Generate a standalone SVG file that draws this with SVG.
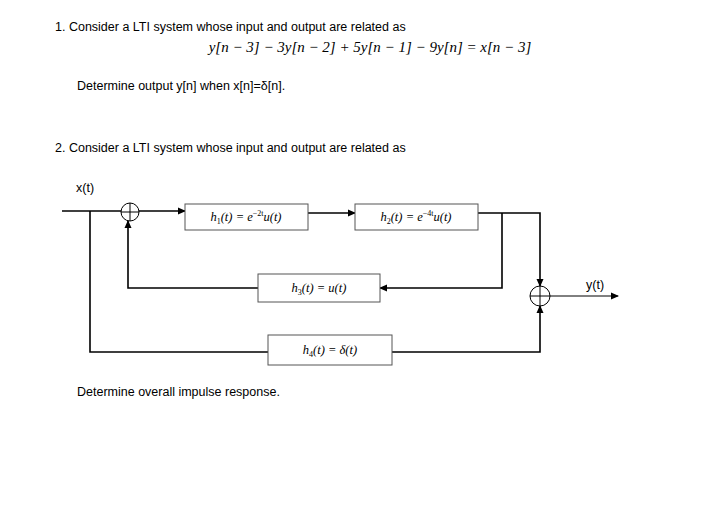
<svg xmlns="http://www.w3.org/2000/svg" width="720" height="530" viewBox="0 0 720 530">
<defs>
<marker id="ar" markerWidth="8" markerHeight="8" refX="7" refY="4" orient="auto" markerUnits="userSpaceOnUse"><path d="M0,0.5 L8,4 L0,7.5 z" fill="#000"/></marker>
</defs>
<style>
.t{font-family:"Liberation Sans",Arial,sans-serif;font-size:12.5px;fill:#000}
.m{font-family:"Liberation Serif","DejaVu Serif",serif;font-style:italic;font-size:12.5px;fill:#000}
.s{font-size:8px;font-style:normal}
.eq{font-family:"Liberation Serif","DejaVu Serif",serif;font-style:italic;font-size:15px;fill:#000}
.b{fill:#fff;stroke:#555;stroke-width:1}
.w{fill:none;stroke:#000;stroke-width:1.6}
.c{fill:#fff;stroke:#000;stroke-width:1}
</style>
<rect width="720" height="530" fill="#fff"/>
<text class="t" x="55" y="31">1.  Consider a LTI system whose input and output are related as</text>
<text class="eq" x="370" y="52" text-anchor="middle">y[n − 3] − 3y[n − 2] + 5y[n − 1] − 9y[n] = x[n − 3]</text>
<text class="t" x="77" y="90">Determine output y[n] when x[n]=δ[n].</text>
<text class="t" x="55" y="152">2.  Consider a LTI system whose input and output are related as</text>
<text class="t" x="76" y="192">x(t)</text>
<text class="t" x="586" y="289">y(t)</text>
<text class="t" x="77" y="396">Determine overall impulse response.</text>
<g id="connectors">
<path class="w" d="M62,211 H121"/>
<path class="w" d="M90,211 V352 H268"/>
<path class="w" d="M139,211 H185" marker-end="url(#ar)"/>
<path class="w" d="M308,213 H355" marker-end="url(#ar)"/>
<path class="w" d="M478,213 H540 V286" marker-end="url(#ar)"/>
<path class="w" d="M502,213 V288 H380" marker-end="url(#ar)"/>
<path class="w" d="M258,288 H128 V221" marker-end="url(#ar)"/>
<path class="w" d="M392,352 H540 V306" marker-end="url(#ar)"/>
<path fill="none" stroke="#000" stroke-width="1" d="M550,296 H618" marker-end="url(#ar)"/>
</g>
<g id="sum1"><circle class="c" cx="130" cy="212" r="9"/><path stroke="#000" stroke-width="1" d="M121,212 H139 M130,203 V221"/></g>
<g id="sum2"><circle class="c" cx="540" cy="296" r="10"/><path stroke="#000" stroke-width="1" d="M530,296 H550 M540,286 V306"/></g>
<g id="h1"><rect class="b" x="185" y="204" width="123" height="26"/><text class="m" x="246" y="221" text-anchor="middle">h<tspan class="s" dy="3">1</tspan><tspan dy="-3">(t) = e</tspan><tspan class="s" dy="-5">−2t</tspan><tspan dy="5">u(t)</tspan></text></g>
<g id="h2"><rect class="b" x="355" y="204" width="123" height="26"/><text class="m" x="416" y="221" text-anchor="middle">h<tspan class="s" dy="3">2</tspan><tspan dy="-3">(t) = e</tspan><tspan class="s" dy="-5">−4t</tspan><tspan dy="5">u(t)</tspan></text></g>
<g id="h3"><rect class="b" x="258" y="274" width="122" height="28"/><text class="m" x="319" y="292" text-anchor="middle">h<tspan class="s" dy="3">3</tspan><tspan dy="-3">(t) = u(t)</tspan></text></g>
<g id="h4"><rect class="b" x="268" y="335" width="124" height="30"/><text class="m" x="330" y="354" text-anchor="middle">h<tspan class="s" dy="3">4</tspan><tspan dy="-3">(t) = δ(t)</tspan></text></g>
</svg>
